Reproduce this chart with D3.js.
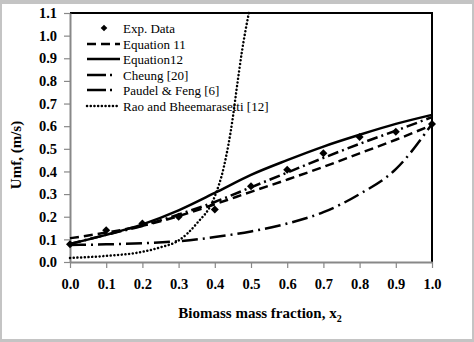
<!DOCTYPE html>
<html>
<head>
<meta charset="utf-8">
<script src="https://cdn.jsdelivr.net/npm/d3@7"></script>
<style>
  body { margin: 0; background: #fff; }
</style>
</head>
<body>
<div id="chart"></div>
<script>
const width = 474;
const height = 342;
const margin = {left: 70, right: 42, top: 13, bottom: 80};
const serif = "'Liberation Serif', 'Times New Roman', serif";

// data
const xVals = [0, 0.1, 0.2, 0.3, 0.4, 0.5, 0.6, 0.7, 0.8, 0.9, 1.0];
const expData = [0.078, 0.14, 0.17, 0.2, 0.232, 0.335, 0.408, 0.48, 0.552, 0.575, 0.61];
const eq11 = [0.105, 0.13, 0.16, 0.203, 0.255, 0.31, 0.364, 0.42, 0.48, 0.54, 0.605];
const eq12 = [0.08, 0.12, 0.166, 0.228, 0.305, 0.385, 0.45, 0.51, 0.562, 0.61, 0.65];
const cheung = [0.075, 0.078, 0.083, 0.092, 0.11, 0.135, 0.17, 0.22, 0.3, 0.41, 0.61];
const paudel = [0.08, 0.12, 0.16, 0.21, 0.265, 0.33, 0.395, 0.46, 0.522, 0.58, 0.64];
const raoX = [0, 0.1, 0.2, 0.25, 0.3, 0.35, 0.4, 0.425, 0.45, 0.46, 0.475, 0.494];
const raoY = [0.018, 0.027, 0.045, 0.065, 0.095, 0.17, 0.29, 0.42, 0.64, 0.76, 0.93, 1.1];
const xTicks = [0, 0.1, 0.2, 0.3, 0.4, 0.5, 0.6, 0.7, 0.8, 0.9, 1.0];
const yTicks = [0, 0.1, 0.2, 0.3, 0.4, 0.5, 0.6, 0.7, 0.8, 0.9, 1.0, 1.1];

const svg = d3.select("#chart")
  .append("svg")
  .attr("width", width)
  .attr("height", height)
  .style("font-family", serif);

// grey frame round the picture
svg.append("rect").attr("width", width).attr("height", height).attr("fill", "#c4c4c4");
svg.append("rect").attr("x", 2).attr("y", 4).attr("width", width - 4).attr("height", height - 7).attr("fill", "#fff");

const x = d3.scaleLinear().domain([0, 1]).range([margin.left, width - margin.right]);
const y = d3.scaleLinear().domain([0, 1.1]).range([height - margin.bottom, margin.top]);

// plot border, top and right in black
svg.append("path")
  .attr("d", `M${x(0)},${y(1.1)}H${x(1)}V${y(0)}`)
  .attr("fill", "none").attr("stroke", "#000").attr("stroke-width", 2);

// axes
const xAxis = svg.append("g")
  .attr("transform", `translate(0,${y(0)})`)
  .call(d3.axisBottom(x).tickValues(xTicks).tickFormat(d3.format(".1f")).tickSize(6).tickSizeOuter(0));
const yAxis = svg.append("g")
  .attr("transform", `translate(${x(0)},0)`)
  .call(d3.axisLeft(y).tickValues(yTicks).tickFormat(d3.format(".1f")).tickSize(6).tickSizeOuter(0));

[xAxis, yAxis].forEach(g => {
  g.attr("font-family", serif);
  g.select(".domain").attr("stroke", "#888").attr("stroke-width", 2);
  g.selectAll(".tick line").attr("stroke", "#888").attr("stroke-width", 1.2);
  g.selectAll("text")
    .attr("font-weight", "bold")
    .attr("font-size", 14.5)
    .attr("fill", "#000");
});
xAxis.selectAll("text").attr("dy", "1.05em").attr("y", 12);
yAxis.selectAll("text").attr("x", -13);

// curves
const line = d3.line().x(d => x(d[0])).y(d => y(d[1])).curve(d3.curveMonotoneX);
const zip = (xs, ys) => xs.map((v, i) => [v, ys[i]]);

const series = [
  {name: "Equation 11", data: zip(xVals, eq11), dash: "9,5", legDash: "9,5", cap: "butt"},
  {name: "Equation12", data: zip(xVals, eq12), dash: null, legDash: null, cap: "butt"},
  {name: "Cheung  [20]", data: zip(xVals, cheung), dash: "16,5,2,5", legDash: "19,4,2,10", cap: "butt"},
  {name: "Paudel & Feng  [6]", data: zip(xVals, paudel), dash: "11,4,2,4", legDash: "19,4,2,10", cap: "butt"},
  {name: "Rao and Bheemarasetti [12]", data: zip(raoX, raoY), dash: "0.1,3.6", legDash: "0.1,3.6", cap: "round"}
];

series.forEach(s => {
  svg.append("path")
    .datum(s.data)
    .attr("d", line)
    .attr("fill", "none")
    .attr("stroke", "#000")
    .attr("stroke-width", 2.5)
    .attr("stroke-linecap", s.cap)
    .attr("stroke-dasharray", s.dash);
});

// experimental diamonds (square turned 45 degrees)
const diamond = d3.symbol().type(d3.symbolSquare).size(32);
svg.selectAll(".pt")
  .data(zip(xVals, expData))
  .enter()
  .append("path")
  .attr("class", "pt")
  .attr("d", diamond)
  .attr("transform", d => `translate(${x(d[0])},${y(d[1])}) rotate(45)`)
  .attr("fill", "#000");

// legend
const legend = svg.append("g").attr("font-size", 13).attr("font-family", serif);
const legY = [28, 44, 59, 75, 90, 106];
legend.append("path").attr("d", d3.symbol().type(d3.symbolSquare).size(22))
  .attr("transform", `translate(104,${legY[0]}) rotate(45)`).attr("fill", "#000");
legend.append("text").attr("x", 123).attr("y", legY[0] + 4.5).text("Exp. Data");
series.forEach((s, i) => {
  const ly = legY[i + 1];
  legend.append("line")
    .attr("x1", 87).attr("x2", 120).attr("y1", ly).attr("y2", ly)
    .attr("stroke", "#000").attr("stroke-width", 2.5)
    .attr("stroke-linecap", s.cap)
    .attr("stroke-dasharray", s.legDash);
  legend.append("text").attr("x", 123).attr("y", ly + 4.5).text(s.name);
});

// axis titles
const xTitle = svg.append("text")
  .attr("x", 260).attr("y", 318)
  .attr("text-anchor", "middle")
  .attr("font-weight", "bold").attr("font-size", 15);
xTitle.append("tspan").text("Biomass mass fraction, x");
xTitle.append("tspan").attr("font-size", 10).attr("dy", 4).text("2");

svg.append("text")
  .attr("transform", "translate(21,155) rotate(-90)")
  .attr("text-anchor", "middle")
  .attr("font-weight", "bold").attr("font-size", 15)
  .text("Umf, (m/s)");
</script>
</body>
</html>
